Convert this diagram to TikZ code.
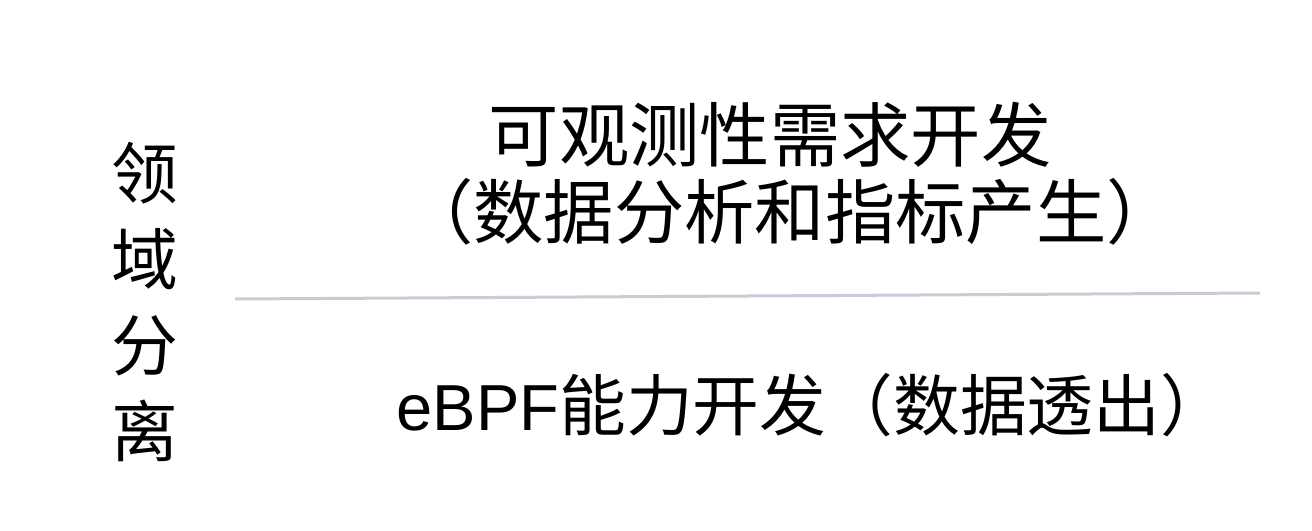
\documentclass[tikz,border=0pt]{standalone}
\usepackage{fontspec}
\setmainfont{Liberation Sans}
\newfontfamily\cjk{Noto Sans CJK SC}
\definecolor{sepgray}{RGB}{200,204,214}
\tikzset{
  txt/.style={inner sep=0pt,font=\cjk\fontsize{20pt}{24pt}\selectfont},
  sidetxt/.style={inner sep=0pt,align=center,font=\cjk\fontsize{19pt}{24.5pt}\selectfont},
}
\begin{document}
\begin{tikzpicture}[x=0.01cm,y=-0.01cm]
                \useasboundingbox[fill=white] (0,0) rectangle (1312,530); %背景
                \node[sidetxt] (side) at (145,302) {领\\域\\分\\离}; %左側
                \node[txt] (top) at (770,135) {可观测性需求开发};
                \node[txt] (sub) at (790,212) {（数据分析和指标产生）};
                \coordinate (L) at (235,299); %線の左端
                \coordinate (R) at (1260,293); %線の右端
                \draw[line width=0.3mm,sepgray] (L) -- (R);
                \node[txt,font=\cjk\fontsize{19pt}{24pt}\selectfont] (ebpf) at (812,405) {{\fontspec{Liberation Sans}\fontsize{18.5pt}{24pt}\selectfont eBPF}能力开发（数据透出）};
\end{tikzpicture}
\end{document}
